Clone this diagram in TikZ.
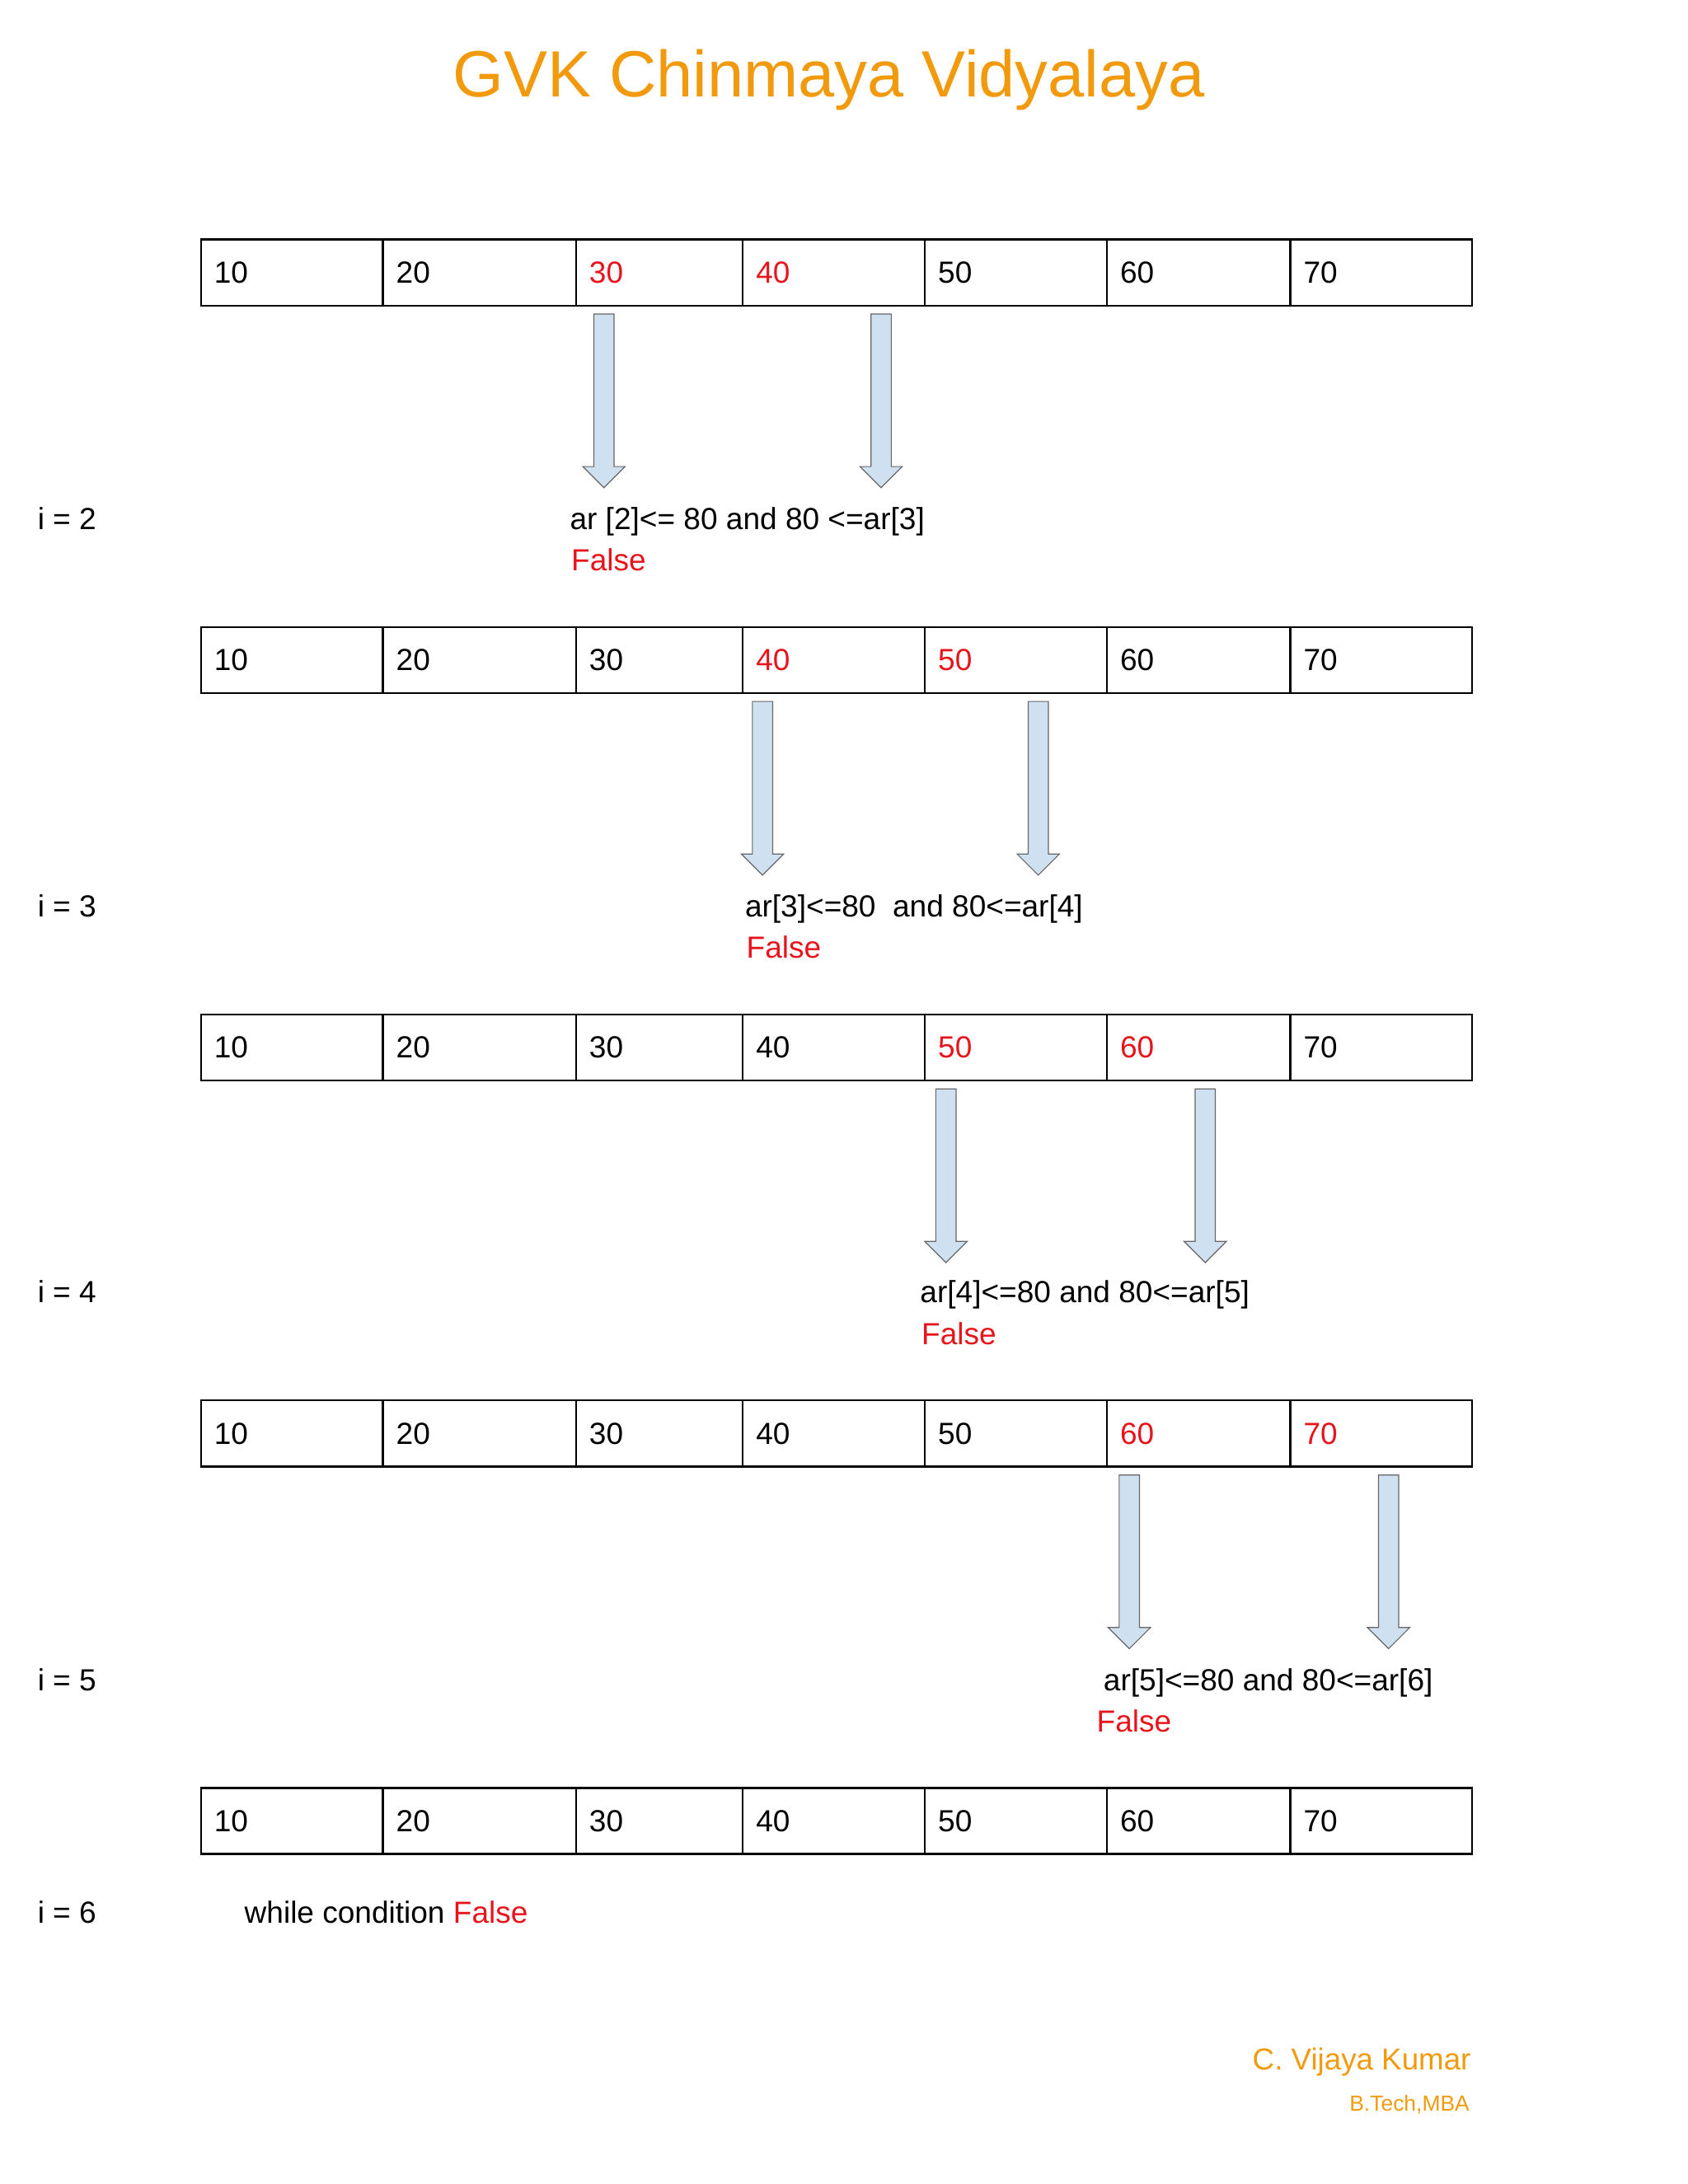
\documentclass[tikz,border=0pt]{standalone}
\usepackage{fontspec}
\setmainfont{Liberation Sans}
\usetikzlibrary{shapes.arrows,positioning}
\definecolor{gvkorange}{HTML}{F29A0E}
\definecolor{falsered}{HTML}{E8141C}
\definecolor{arrowfill}{HTML}{CFE0F1}
\tikzset{
        cell/.style = {draw, thick, rectangle, minimum height=0.96cm, anchor=north west, inner sep=0pt},
        celltext/.style = {anchor=west, inner sep=0pt, xshift=0.2cm, font=\fontsize{12.6}{15}\selectfont},
        txt/.style = {anchor=base west, inner sep=0pt, font=\fontsize{12.6}{15}\selectfont},
        falsetxt/.style = {txt, text=falsered},
        downarrow/.style = {single arrow, draw=gray!80!black, fill=arrowfill, rotate=-90, anchor=tail,
                minimum height=2.52cm, minimum width=0.6cm, inner sep=0.14cm, single arrow head extend=0.16cm}}
\begin{document}
\begin{tikzpicture}[x=0.02cm,y=-0.02cm]
    \useasboundingbox (0,0) rectangle (1224,1584);
    \node[text=gvkorange, font=\fontsize{27}{32}\selectfont] (title) at (601,58) {GVK Chinmaya Vidyalaya};

    % array rows: row top, first red, second red
    \foreach \r/\ytop/\ra/\rb in {1/173/3/4, 2/454/4/5, 3/735/5/6, 4/1015/6/7, 5/1296/0/0} {
        \foreach \c/\xl/\w in {1/145/132, 2/277/140, 3/417/121, 4/538/132, 5/670/132, 6/802/133, 7/935/132} {
            \pgfmathtruncatemacro{\val}{10*\c}
            \ifnum\c=\ra \def\col{falsered}\else\ifnum\c=\rb \def\col{falsered}\else\def\col{black}\fi\fi
            \node[cell, minimum width=\w*0.02cm] (c\r\c) at (\xl,\ytop) {};
            \node[celltext, text=\col] (t\r\c) at (c\r\c.west) {\val};
        }
    }

    % arrows
    \foreach \r/\xa/\xb in {1/438/639, 2/553/753, 3/686/874, 4/819/1007} {
        \node[downarrow] (a\r) at ([yshift=-0.1cm]c\r1.south -| \xa,0) {};
        \node[downarrow] (b\r) at ([yshift=-0.1cm]c\r1.south -| \xb,0) {};
    }

    % loop labels and conditions
    \node[txt] (i2) at (27,384) {i = 2};
    \node[txt] (cond2) at (413,384) {ar [2]<= 80 and 80 <=ar[3]};
    \node[falsetxt] (f2) at (414,414) {False};

    \node[txt] (i3) at (27,665) {i = 3};
    \node[txt] (cond3) at (540,665) {ar[3]<=80\ \ and 80<=ar[4]};
    \node[falsetxt] (f3) at (541,695) {False};

    \node[txt] (i4) at (27,945) {i = 4};
    \node[txt] (cond4) at (667,945) {ar[4]<=80 and 80<=ar[5]};
    \node[falsetxt] (f4) at (668,975) {False};

    \node[txt] (i5) at (27,1226) {i = 5};
    \node[txt] (cond5) at (800,1226) {ar[5]<=80 and 80<=ar[6]};
    \node[falsetxt] (f5) at (795,1256) {False};

    \node[txt] (i6) at (27,1395) {i = 6};
    \node[txt] (cond6) at (177,1395) {while condition \textcolor{falsered}{False}};

    % footer
    \node[anchor=base east, inner sep=0pt, text=gvkorange, font=\fontsize{12.5}{15}\selectfont] (name) at (1067,1501) {C. Vijaya Kumar};
    \node[anchor=base east, inner sep=0pt, text=gvkorange, font=\fontsize{9}{11}\selectfont] (deg) at (1066,1531) {B.Tech,MBA};
\end{tikzpicture}
\end{document}
